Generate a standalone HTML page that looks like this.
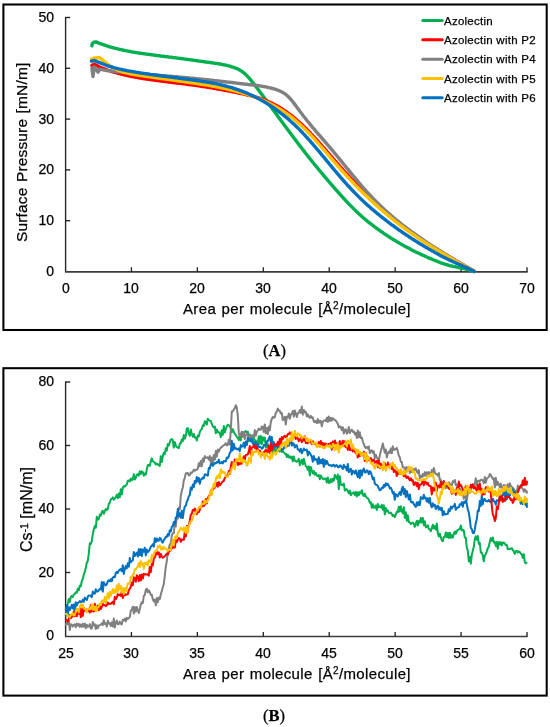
<!DOCTYPE html>
<html><head><meta charset="utf-8"><style>
html,body{margin:0;padding:0;background:#fff;}
body{width:550px;height:727px;position:relative;overflow:hidden;font-family:"Liberation Sans",sans-serif;color:#000;}
.box{position:absolute;left:3px;width:545px;border:2px solid #000;box-sizing:border-box;}
svg{position:absolute;left:0;top:0;}
.yl,.xl,.lg,.tt,.ytt,.cap{will-change:transform;-webkit-text-stroke:0.25px #000;}
.yl{position:absolute;left:13.5px;width:40px;text-align:right;font-size:14px;line-height:17px;}
.xl{position:absolute;width:40px;text-align:center;font-size:14px;line-height:17px;}
.lg{position:absolute;left:444px;font-size:11.5px;letter-spacing:0.25px;line-height:14px;white-space:nowrap;}
.tt{position:absolute;font-size:15px;letter-spacing:0.35px;word-spacing:1px;line-height:18px;white-space:nowrap;}
.tt sup{font-size:10px;vertical-align:top;position:relative;top:-2.6px;}
.ytt{position:absolute;font-size:15px;letter-spacing:0.35px;word-spacing:1.5px;line-height:18px;white-space:nowrap;transform-origin:0 0;transform:rotate(-90deg);}
.ytt sup{font-size:10px;vertical-align:top;position:relative;top:-3px;}
.cap{position:absolute;font-family:"Liberation Serif",serif;font-size:16.5px;line-height:18px;white-space:nowrap;}
</style></head><body>
<svg width="550" height="727" viewBox="0 0 550 727">
<rect x="3.4" y="4.5" width="543.3" height="325.5" fill="none" stroke="#000" stroke-width="2.05"/>
<rect x="3.4" y="368.2" width="543.3" height="327.4" fill="none" stroke="#000" stroke-width="2.05"/>
<path d="M65.6,16.9 V271.8" fill="none" stroke="#262626" stroke-width="1.4"/><path d="M65,271.8 H527.6" fill="none" stroke="#3c3c3c" stroke-width="1.7"/><path d="M65.6,220.70 H70.2" stroke="#262626" stroke-width="1.4"/><path d="M65.6,169.90 H70.2" stroke="#262626" stroke-width="1.4"/><path d="M65.6,119.10 H70.2" stroke="#262626" stroke-width="1.4"/><path d="M65.6,68.30 H70.2" stroke="#262626" stroke-width="1.4"/><path d="M65.6,17.50 H70.2" stroke="#262626" stroke-width="1.4"/><path d="M131.43,271.8 V267.3" stroke="#1e1e1e" stroke-width="1.3"/><path d="M197.36,271.8 V267.3" stroke="#1e1e1e" stroke-width="1.3"/><path d="M263.29,271.8 V267.3" stroke="#1e1e1e" stroke-width="1.3"/><path d="M329.21,271.8 V267.3" stroke="#1e1e1e" stroke-width="1.3"/><path d="M395.14,271.8 V267.3" stroke="#1e1e1e" stroke-width="1.3"/><path d="M461.07,271.8 V267.3" stroke="#1e1e1e" stroke-width="1.3"/><path d="M527.00,271.8 V267.3" stroke="#1e1e1e" stroke-width="1.3"/>
<path d="M65.6,381.4 V636.5" fill="none" stroke="#262626" stroke-width="1.4"/><path d="M65,636.5 H527.6" fill="none" stroke="#3c3c3c" stroke-width="1.7"/><path d="M65.6,572.50 H70.2" stroke="#262626" stroke-width="1.4"/><path d="M65.6,509.00 H70.2" stroke="#262626" stroke-width="1.4"/><path d="M65.6,445.50 H70.2" stroke="#262626" stroke-width="1.4"/><path d="M65.6,382.00 H70.2" stroke="#262626" stroke-width="1.4"/><path d="M131.43,636.5 V632.0" stroke="#1e1e1e" stroke-width="1.3"/><path d="M197.36,636.5 V632.0" stroke="#1e1e1e" stroke-width="1.3"/><path d="M263.29,636.5 V632.0" stroke="#1e1e1e" stroke-width="1.3"/><path d="M329.21,636.5 V632.0" stroke="#1e1e1e" stroke-width="1.3"/><path d="M395.14,636.5 V632.0" stroke="#1e1e1e" stroke-width="1.3"/><path d="M461.07,636.5 V632.0" stroke="#1e1e1e" stroke-width="1.3"/><path d="M527.00,636.5 V632.0" stroke="#1e1e1e" stroke-width="1.3"/>
<path d="M91.9,45.9 L92.3,43.5 L94.0,42.2 L95.9,41.9 L99.5,43.4 L106.8,45.9 L107.8,46.2 L108.8,46.5 L109.8,46.8 L110.8,47.1 L111.8,47.4 L112.8,47.6 L113.8,47.9 L114.8,48.2 L115.8,48.4 L116.8,48.7 L117.8,48.9 L118.8,49.2 L119.8,49.4 L120.8,49.6 L121.8,49.8 L122.8,50.0 L123.8,50.3 L124.8,50.5 L125.8,50.7 L126.8,50.9 L127.8,51.1 L128.8,51.2 L129.8,51.4 L130.8,51.6 L131.8,51.8 L132.8,52.0 L133.8,52.1 L134.8,52.3 L135.8,52.5 L136.8,52.6 L137.8,52.8 L138.8,53.0 L139.8,53.1 L140.8,53.3 L141.8,53.4 L142.8,53.6 L143.8,53.7 L144.8,53.9 L145.8,54.0 L146.8,54.1 L147.8,54.3 L148.8,54.4 L149.8,54.5 L150.8,54.7 L151.8,54.8 L152.8,54.9 L153.8,55.1 L154.8,55.2 L155.8,55.3 L156.8,55.5 L157.8,55.6 L158.8,55.7 L159.8,55.8 L160.8,56.0 L161.8,56.1 L162.8,56.2 L163.8,56.3 L164.8,56.5 L165.8,56.6 L166.8,56.7 L167.8,56.8 L168.8,57.0 L169.8,57.1 L170.8,57.2 L171.8,57.3 L172.8,57.5 L173.8,57.6 L174.8,57.7 L175.8,57.9 L176.8,58.0 L177.8,58.1 L178.8,58.3 L179.8,58.4 L180.8,58.5 L181.8,58.7 L182.8,58.8 L183.8,58.9 L184.8,59.1 L185.8,59.2 L186.8,59.3 L187.8,59.5 L188.8,59.6 L189.8,59.7 L190.8,59.9 L191.8,60.0 L192.8,60.2 L193.8,60.3 L194.8,60.4 L195.8,60.6 L196.8,60.7 L197.8,60.8 L198.8,61.0 L199.8,61.1 L200.8,61.3 L201.8,61.4 L202.8,61.5 L203.8,61.7 L204.8,61.8 L205.8,62.0 L206.8,62.1 L207.8,62.2 L208.8,62.4 L209.8,62.5 L210.8,62.7 L211.8,62.8 L212.8,62.9 L213.8,63.1 L214.8,63.2 L215.8,63.4 L216.8,63.5 L217.8,63.7 L218.8,63.8 L219.8,64.0 L220.8,64.2 L221.8,64.4 L222.8,64.6 L223.8,64.8 L224.8,65.0 L225.8,65.2 L226.8,65.4 L227.8,65.7 L228.8,65.9 L229.8,66.2 L230.8,66.5 L231.8,66.8 L232.8,67.1 L233.8,67.4 L234.8,67.8 L235.8,68.2 L236.8,68.6 L237.8,69.1 L238.8,69.6 L239.8,70.1 L240.8,70.7 L241.8,71.4 L242.8,72.1 L243.8,72.9 L244.8,73.7 L245.8,74.6 L246.8,75.6 L247.8,76.7 L248.8,77.7 L249.8,78.9 L250.8,80.1 L251.8,81.3 L252.8,82.5 L253.8,83.8 L254.8,85.1 L255.8,86.4 L256.8,87.7 L257.8,89.0 L258.8,90.4 L259.8,91.7 L260.8,93.0 L261.8,94.4 L262.8,95.7 L263.8,97.1 L264.8,98.5 L265.8,99.8 L266.8,101.2 L267.8,102.6 L268.8,103.9 L269.8,105.3 L270.8,106.7 L271.8,108.0 L272.8,109.4 L273.8,110.8 L274.8,112.1 L275.8,113.5 L276.8,114.8 L277.8,116.2 L278.8,117.6 L279.8,118.9 L280.8,120.3 L281.8,121.6 L282.8,123.0 L283.8,124.3 L284.8,125.7 L285.8,127.0 L286.8,128.4 L287.8,129.7 L288.8,131.1 L289.8,132.4 L290.8,133.8 L291.8,135.1 L292.8,136.4 L293.8,137.8 L294.8,139.1 L295.8,140.4 L296.8,141.7 L297.8,143.1 L298.8,144.4 L299.8,145.7 L300.8,147.0 L301.8,148.3 L302.8,149.6 L303.8,150.9 L304.8,152.2 L305.8,153.5 L306.8,154.7 L307.8,156.0 L308.8,157.3 L309.8,158.5 L310.8,159.8 L311.8,161.0 L312.8,162.3 L313.8,163.5 L314.8,164.8 L315.8,166.0 L316.8,167.2 L317.8,168.4 L318.8,169.6 L319.8,170.8 L320.8,172.0 L321.8,173.2 L322.8,174.4 L323.8,175.6 L324.8,176.8 L325.8,178.0 L326.8,179.1 L327.8,180.3 L328.8,181.5 L329.8,182.7 L330.8,183.8 L331.8,185.0 L332.8,186.1 L333.8,187.3 L334.8,188.4 L335.8,189.6 L336.8,190.7 L337.8,191.8 L338.8,193.0 L339.8,194.1 L340.8,195.2 L341.8,196.3 L342.8,197.4 L343.8,198.5 L344.8,199.6 L345.8,200.7 L346.8,201.7 L347.8,202.8 L348.8,203.8 L349.8,204.9 L350.8,205.9 L351.8,206.9 L352.8,207.9 L353.8,208.9 L354.8,209.9 L355.8,210.9 L356.8,211.8 L357.8,212.8 L358.8,213.7 L359.8,214.6 L360.8,215.5 L361.8,216.4 L362.8,217.3 L363.8,218.2 L364.8,219.1 L365.8,219.9 L366.8,220.7 L367.8,221.6 L368.8,222.4 L369.8,223.2 L370.8,223.9 L371.8,224.7 L372.8,225.5 L373.8,226.2 L374.8,227.0 L375.8,227.7 L376.8,228.5 L377.8,229.2 L378.8,229.9 L379.8,230.6 L380.8,231.3 L381.8,232.0 L382.8,232.7 L383.8,233.4 L384.8,234.1 L385.8,234.7 L386.8,235.4 L387.8,236.0 L388.8,236.7 L389.8,237.3 L390.8,238.0 L391.8,238.6 L392.8,239.2 L393.8,239.8 L394.8,240.4 L395.8,241.0 L396.8,241.6 L397.8,242.2 L398.8,242.8 L399.8,243.4 L400.8,244.0 L401.8,244.5 L402.8,245.1 L403.8,245.6 L404.8,246.2 L405.8,246.7 L406.8,247.3 L407.8,247.8 L408.8,248.3 L409.8,248.8 L410.8,249.4 L411.8,249.9 L412.8,250.4 L413.8,250.9 L414.8,251.4 L415.8,251.9 L416.8,252.4 L417.8,252.8 L418.8,253.3 L419.8,253.8 L420.8,254.3 L421.8,254.7 L422.8,255.2 L423.8,255.6 L424.8,256.1 L425.8,256.5 L426.8,257.0 L427.8,257.4 L428.8,257.9 L429.8,258.3 L430.8,258.7 L431.8,259.1 L432.8,259.6 L433.8,260.0 L434.8,260.4 L435.8,260.8 L436.8,261.2 L437.8,261.6 L438.8,262.0 L439.8,262.4 L440.8,262.8 L441.8,263.1 L442.8,263.5 L443.8,263.8 L444.8,264.1 L445.8,264.4 L446.8,264.7 L447.8,265.0 L448.8,265.3 L449.8,265.6 L450.8,265.8 L451.8,266.0 L452.8,266.3 L453.8,266.5 L454.8,266.7 L455.8,266.9 L456.8,267.2 L457.8,267.4 L458.8,267.6 L459.8,267.8 L460.8,268.0 L461.8,268.2 L462.8,268.4 L463.8,268.7 L464.8,268.9 L465.8,269.1 L466.8,269.4 L467.8,269.6 L468.8,269.9 L469.8,270.2 L470.8,270.5 L471.8,270.8 L472.8,271.1 L473.8,271.4 L474.2,271.5" fill="none" stroke="#00B050" stroke-width="3.4" stroke-linejoin="round" stroke-linecap="round"/><path d="M91.9,65.5 L94.5,64.1 L99.5,67.0 L106.8,69.9 L107.8,70.2 L108.8,70.5 L109.8,70.9 L110.8,71.2 L111.8,71.5 L112.8,71.8 L113.8,72.1 L114.8,72.4 L115.8,72.7 L116.8,72.9 L117.8,73.2 L118.8,73.5 L119.8,73.7 L120.8,74.0 L121.8,74.2 L122.8,74.5 L123.8,74.7 L124.8,75.0 L125.8,75.2 L126.8,75.4 L127.8,75.6 L128.8,75.9 L129.8,76.1 L130.8,76.3 L131.8,76.5 L132.8,76.7 L133.8,76.9 L134.8,77.1 L135.8,77.2 L136.8,77.4 L137.8,77.6 L138.8,77.8 L139.8,78.0 L140.8,78.1 L141.8,78.3 L142.8,78.5 L143.8,78.6 L144.8,78.8 L145.8,78.9 L146.8,79.1 L147.8,79.2 L148.8,79.4 L149.8,79.5 L150.8,79.7 L151.8,79.8 L152.8,79.9 L153.8,80.1 L154.8,80.2 L155.8,80.4 L156.8,80.5 L157.8,80.6 L158.8,80.7 L159.8,80.9 L160.8,81.0 L161.8,81.1 L162.8,81.3 L163.8,81.4 L164.8,81.5 L165.8,81.6 L166.8,81.7 L167.8,81.9 L168.8,82.0 L169.8,82.1 L170.8,82.2 L171.8,82.4 L172.8,82.5 L173.8,82.6 L174.8,82.7 L175.8,82.8 L176.8,83.0 L177.8,83.1 L178.8,83.2 L179.8,83.3 L180.8,83.4 L181.8,83.6 L182.8,83.7 L183.8,83.8 L184.8,83.9 L185.8,84.1 L186.8,84.2 L187.8,84.3 L188.8,84.5 L189.8,84.6 L190.8,84.7 L191.8,84.9 L192.8,85.0 L193.8,85.1 L194.8,85.3 L195.8,85.4 L196.8,85.6 L197.8,85.7 L198.8,85.9 L199.8,86.0 L200.8,86.2 L201.8,86.3 L202.8,86.5 L203.8,86.6 L204.8,86.8 L205.8,86.9 L206.8,87.1 L207.8,87.3 L208.8,87.4 L209.8,87.6 L210.8,87.8 L211.8,87.9 L212.8,88.1 L213.8,88.3 L214.8,88.4 L215.8,88.6 L216.8,88.8 L217.8,89.0 L218.8,89.1 L219.8,89.3 L220.8,89.5 L221.8,89.7 L222.8,89.9 L223.8,90.1 L224.8,90.3 L225.8,90.4 L226.8,90.6 L227.8,90.8 L228.8,91.0 L229.8,91.2 L230.8,91.4 L231.8,91.6 L232.8,91.8 L233.8,92.0 L234.8,92.2 L235.8,92.4 L236.8,92.6 L237.8,92.8 L238.8,93.0 L239.8,93.3 L240.8,93.5 L241.8,93.7 L242.8,93.9 L243.8,94.1 L244.8,94.3 L245.8,94.6 L246.8,94.8 L247.8,95.0 L248.8,95.3 L249.8,95.5 L250.8,95.8 L251.8,96.0 L252.8,96.3 L253.8,96.5 L254.8,96.8 L255.8,97.1 L256.8,97.4 L257.8,97.7 L258.8,98.0 L259.8,98.3 L260.8,98.7 L261.8,99.0 L262.8,99.4 L263.8,99.7 L264.8,100.1 L265.8,100.5 L266.8,100.9 L267.8,101.3 L268.8,101.8 L269.8,102.2 L270.8,102.7 L271.8,103.2 L272.8,103.6 L273.8,104.2 L274.8,104.7 L275.8,105.2 L276.8,105.8 L277.8,106.3 L278.8,106.9 L279.8,107.5 L280.8,108.1 L281.8,108.8 L282.8,109.4 L283.8,110.1 L284.8,110.7 L285.8,111.4 L286.8,112.1 L287.8,112.8 L288.8,113.6 L289.8,114.3 L290.8,115.1 L291.8,115.9 L292.8,116.7 L293.8,117.5 L294.8,118.3 L295.8,119.2 L296.8,120.0 L297.8,120.9 L298.8,121.8 L299.8,122.7 L300.8,123.6 L301.8,124.5 L302.8,125.5 L303.8,126.5 L304.8,127.4 L305.8,128.4 L306.8,129.4 L307.8,130.4 L308.8,131.5 L309.8,132.5 L310.8,133.6 L311.8,134.6 L312.8,135.7 L313.8,136.8 L314.8,137.9 L315.8,139.0 L316.8,140.1 L317.8,141.2 L318.8,142.3 L319.8,143.4 L320.8,144.5 L321.8,145.7 L322.8,146.8 L323.8,147.9 L324.8,149.1 L325.8,150.2 L326.8,151.4 L327.8,152.5 L328.8,153.7 L329.8,154.8 L330.8,156.0 L331.8,157.1 L332.8,158.3 L333.8,159.4 L334.8,160.6 L335.8,161.7 L336.8,162.9 L337.8,164.0 L338.8,165.1 L339.8,166.3 L340.8,167.4 L341.8,168.5 L342.8,169.6 L343.8,170.7 L344.8,171.9 L345.8,173.0 L346.8,174.0 L347.8,175.1 L348.8,176.2 L349.8,177.3 L350.8,178.4 L351.8,179.4 L352.8,180.5 L353.8,181.6 L354.8,182.6 L355.8,183.7 L356.8,184.7 L357.8,185.7 L358.8,186.8 L359.8,187.8 L360.8,188.8 L361.8,189.8 L362.8,190.8 L363.8,191.8 L364.8,192.8 L365.8,193.8 L366.8,194.8 L367.8,195.8 L368.8,196.8 L369.8,197.7 L370.8,198.7 L371.8,199.6 L372.8,200.6 L373.8,201.5 L374.8,202.5 L375.8,203.4 L376.8,204.3 L377.8,205.2 L378.8,206.1 L379.8,207.1 L380.8,208.0 L381.8,208.8 L382.8,209.7 L383.8,210.6 L384.8,211.5 L385.8,212.4 L386.8,213.2 L387.8,214.1 L388.8,214.9 L389.8,215.8 L390.8,216.6 L391.8,217.4 L392.8,218.2 L393.8,219.1 L394.8,219.9 L395.8,220.7 L396.8,221.5 L397.8,222.2 L398.8,223.0 L399.8,223.8 L400.8,224.6 L401.8,225.3 L402.8,226.1 L403.8,226.9 L404.8,227.6 L405.8,228.4 L406.8,229.1 L407.8,229.8 L408.8,230.6 L409.8,231.3 L410.8,232.0 L411.8,232.7 L412.8,233.4 L413.8,234.1 L414.8,234.8 L415.8,235.5 L416.8,236.2 L417.8,236.9 L418.8,237.6 L419.8,238.3 L420.8,238.9 L421.8,239.6 L422.8,240.3 L423.8,240.9 L424.8,241.6 L425.8,242.2 L426.8,242.9 L427.8,243.5 L428.8,244.2 L429.8,244.8 L430.8,245.5 L431.8,246.1 L432.8,246.7 L433.8,247.4 L434.8,248.0 L435.8,248.6 L436.8,249.2 L437.8,249.8 L438.8,250.5 L439.8,251.1 L440.8,251.7 L441.8,252.3 L442.8,252.9 L443.8,253.5 L444.8,254.1 L445.8,254.7 L446.8,255.3 L447.8,255.9 L448.8,256.5 L449.8,257.1 L450.8,257.7 L451.8,258.2 L452.8,258.8 L453.8,259.4 L454.8,260.0 L455.8,260.6 L456.8,261.2 L457.8,261.7 L458.8,262.3 L459.8,262.9 L460.8,263.5 L461.8,264.1 L462.8,264.6 L463.8,265.2 L464.8,265.8 L465.8,266.4 L466.8,266.9 L467.8,267.5 L468.8,268.1 L469.8,268.7 L470.8,269.2 L471.8,269.8 L472.8,270.4 L473.8,271.0 L474.2,271.2" fill="none" stroke="#FF0000" stroke-width="3.4" stroke-linejoin="round" stroke-linecap="round"/><path d="M92.0,68.0 L92.3,71.4 L93.0,76.5 L93.6,72.0 L94.1,67.0 L95.5,67.7 L96.5,70.0 L98.1,72.1 L99.5,69.2 L106.8,70.6 L107.8,70.7 L108.8,70.8 L109.8,70.9 L110.8,71.0 L111.8,71.1 L112.8,71.2 L113.8,71.3 L114.8,71.4 L115.8,71.5 L116.8,71.6 L117.8,71.7 L118.8,71.8 L119.8,71.9 L120.8,72.0 L121.8,72.1 L122.8,72.1 L123.8,72.2 L124.8,72.3 L125.8,72.4 L126.8,72.5 L127.8,72.6 L128.8,72.7 L129.8,72.8 L130.8,72.9 L131.8,73.0 L132.8,73.1 L133.8,73.2 L134.8,73.3 L135.8,73.4 L136.8,73.4 L137.8,73.5 L138.8,73.6 L139.8,73.7 L140.8,73.8 L141.8,73.9 L142.8,74.0 L143.8,74.1 L144.8,74.1 L145.8,74.2 L146.8,74.3 L147.8,74.4 L148.8,74.5 L149.8,74.6 L150.8,74.7 L151.8,74.7 L152.8,74.8 L153.8,74.9 L154.8,75.0 L155.8,75.1 L156.8,75.2 L157.8,75.2 L158.8,75.3 L159.8,75.4 L160.8,75.5 L161.8,75.6 L162.8,75.7 L163.8,75.7 L164.8,75.8 L165.8,75.9 L166.8,76.0 L167.8,76.1 L168.8,76.2 L169.8,76.2 L170.8,76.3 L171.8,76.4 L172.8,76.5 L173.8,76.6 L174.8,76.7 L175.8,76.7 L176.8,76.8 L177.8,76.9 L178.8,77.0 L179.8,77.1 L180.8,77.2 L181.8,77.3 L182.8,77.4 L183.8,77.4 L184.8,77.5 L185.8,77.6 L186.8,77.7 L187.8,77.8 L188.8,77.9 L189.8,78.0 L190.8,78.1 L191.8,78.2 L192.8,78.3 L193.8,78.4 L194.8,78.5 L195.8,78.6 L196.8,78.7 L197.8,78.8 L198.8,78.9 L199.8,79.0 L200.8,79.1 L201.8,79.2 L202.8,79.3 L203.8,79.4 L204.8,79.5 L205.8,79.6 L206.8,79.7 L207.8,79.8 L208.8,79.9 L209.8,80.0 L210.8,80.1 L211.8,80.2 L212.8,80.3 L213.8,80.5 L214.8,80.6 L215.8,80.7 L216.8,80.8 L217.8,80.9 L218.8,81.0 L219.8,81.1 L220.8,81.3 L221.8,81.4 L222.8,81.5 L223.8,81.6 L224.8,81.7 L225.8,81.8 L226.8,82.0 L227.8,82.1 L228.8,82.2 L229.8,82.3 L230.8,82.4 L231.8,82.5 L232.8,82.7 L233.8,82.8 L234.8,82.9 L235.8,83.0 L236.8,83.1 L237.8,83.3 L238.8,83.4 L239.8,83.5 L240.8,83.6 L241.8,83.7 L242.8,83.9 L243.8,84.0 L244.8,84.1 L245.8,84.2 L246.8,84.3 L247.8,84.4 L248.8,84.6 L249.8,84.7 L250.8,84.8 L251.8,84.9 L252.8,85.0 L253.8,85.2 L254.8,85.3 L255.8,85.4 L256.8,85.5 L257.8,85.7 L258.8,85.8 L259.8,85.9 L260.8,86.1 L261.8,86.2 L262.8,86.4 L263.8,86.6 L264.8,86.7 L265.8,86.9 L266.8,87.1 L267.8,87.3 L268.8,87.6 L269.8,87.8 L270.8,88.0 L271.8,88.3 L272.8,88.5 L273.8,88.8 L274.8,89.1 L275.8,89.4 L276.8,89.8 L277.8,90.1 L278.8,90.5 L279.8,90.9 L280.8,91.4 L281.8,91.9 L282.8,92.5 L283.8,93.1 L284.8,93.7 L285.8,94.5 L286.8,95.3 L287.8,96.2 L288.8,97.2 L289.8,98.2 L290.8,99.4 L291.8,100.5 L292.8,101.8 L293.8,103.1 L294.8,104.4 L295.8,105.7 L296.8,107.1 L297.8,108.4 L298.8,109.8 L299.8,111.2 L300.8,112.5 L301.8,113.8 L302.8,115.2 L303.8,116.5 L304.8,117.7 L305.8,119.0 L306.8,120.3 L307.8,121.5 L308.8,122.7 L309.8,123.9 L310.8,125.2 L311.8,126.4 L312.8,127.6 L313.8,128.7 L314.8,129.9 L315.8,131.1 L316.8,132.3 L317.8,133.4 L318.8,134.6 L319.8,135.7 L320.8,136.9 L321.8,138.0 L322.8,139.2 L323.8,140.4 L324.8,141.5 L325.8,142.7 L326.8,143.8 L327.8,145.0 L328.8,146.2 L329.8,147.3 L330.8,148.5 L331.8,149.7 L332.8,150.9 L333.8,152.1 L334.8,153.3 L335.8,154.5 L336.8,155.7 L337.8,157.0 L338.8,158.2 L339.8,159.4 L340.8,160.6 L341.8,161.9 L342.8,163.1 L343.8,164.3 L344.8,165.5 L345.8,166.8 L346.8,168.0 L347.8,169.2 L348.8,170.4 L349.8,171.7 L350.8,172.9 L351.8,174.1 L352.8,175.3 L353.8,176.5 L354.8,177.7 L355.8,178.9 L356.8,180.1 L357.8,181.3 L358.8,182.5 L359.8,183.7 L360.8,184.8 L361.8,186.0 L362.8,187.2 L363.8,188.3 L364.8,189.4 L365.8,190.6 L366.8,191.7 L367.8,192.8 L368.8,193.9 L369.8,195.0 L370.8,196.0 L371.8,197.1 L372.8,198.1 L373.8,199.2 L374.8,200.2 L375.8,201.2 L376.8,202.2 L377.8,203.2 L378.8,204.2 L379.8,205.2 L380.8,206.1 L381.8,207.1 L382.8,208.0 L383.8,209.0 L384.8,209.9 L385.8,210.8 L386.8,211.7 L387.8,212.6 L388.8,213.5 L389.8,214.4 L390.8,215.2 L391.8,216.1 L392.8,216.9 L393.8,217.8 L394.8,218.6 L395.8,219.5 L396.8,220.3 L397.8,221.1 L398.8,221.9 L399.8,222.7 L400.8,223.5 L401.8,224.3 L402.8,225.1 L403.8,225.8 L404.8,226.6 L405.8,227.4 L406.8,228.1 L407.8,228.9 L408.8,229.6 L409.8,230.4 L410.8,231.1 L411.8,231.8 L412.8,232.5 L413.8,233.3 L414.8,234.0 L415.8,234.7 L416.8,235.4 L417.8,236.1 L418.8,236.8 L419.8,237.5 L420.8,238.2 L421.8,238.9 L422.8,239.6 L423.8,240.3 L424.8,240.9 L425.8,241.6 L426.8,242.3 L427.8,243.0 L428.8,243.6 L429.8,244.3 L430.8,245.0 L431.8,245.6 L432.8,246.3 L433.8,246.9 L434.8,247.6 L435.8,248.2 L436.8,248.9 L437.8,249.5 L438.8,250.1 L439.8,250.8 L440.8,251.4 L441.8,252.0 L442.8,252.7 L443.8,253.3 L444.8,253.9 L445.8,254.5 L446.8,255.2 L447.8,255.8 L448.8,256.4 L449.8,257.0 L450.8,257.6 L451.8,258.2 L452.8,258.8 L453.8,259.4 L454.8,260.0 L455.8,260.6 L456.8,261.2 L457.8,261.8 L458.8,262.4 L459.8,263.0 L460.8,263.5 L461.8,264.1 L462.8,264.7 L463.8,265.3 L464.8,265.9 L465.8,266.4 L466.8,267.0 L467.8,267.6 L468.8,268.1 L469.8,268.7 L470.8,269.3 L471.8,269.8 L472.8,270.4 L473.8,271.0 L474.2,271.2" fill="none" stroke="#808080" stroke-width="3.4" stroke-linejoin="round" stroke-linecap="round"/><path d="M91.5,59.0 L94.5,57.9 L99.5,57.5 L103.2,60.5 L104.2,61.4 L105.2,62.3 L106.2,63.1 L107.2,63.8 L108.2,64.6 L109.2,65.3 L110.2,66.0 L111.2,66.6 L112.2,67.2 L113.2,67.8 L114.2,68.3 L115.2,68.8 L116.2,69.3 L117.2,69.8 L118.2,70.2 L119.2,70.6 L120.2,71.0 L121.2,71.4 L122.2,71.7 L123.2,72.0 L124.2,72.3 L125.2,72.6 L126.2,72.9 L127.2,73.1 L128.2,73.4 L129.2,73.6 L130.2,73.8 L131.2,74.0 L132.2,74.2 L133.2,74.4 L134.2,74.5 L135.2,74.7 L136.2,74.9 L137.2,75.0 L138.2,75.2 L139.2,75.3 L140.2,75.5 L141.2,75.6 L142.2,75.8 L143.2,75.9 L144.2,76.1 L145.2,76.2 L146.2,76.3 L147.2,76.5 L148.2,76.6 L149.2,76.8 L150.2,76.9 L151.2,77.1 L152.2,77.2 L153.2,77.3 L154.2,77.5 L155.2,77.6 L156.2,77.8 L157.2,77.9 L158.2,78.0 L159.2,78.2 L160.2,78.3 L161.2,78.5 L162.2,78.6 L163.2,78.7 L164.2,78.9 L165.2,79.0 L166.2,79.2 L167.2,79.3 L168.2,79.4 L169.2,79.6 L170.2,79.7 L171.2,79.8 L172.2,80.0 L173.2,80.1 L174.2,80.3 L175.2,80.4 L176.2,80.5 L177.2,80.7 L178.2,80.8 L179.2,81.0 L180.2,81.1 L181.2,81.3 L182.2,81.4 L183.2,81.5 L184.2,81.7 L185.2,81.8 L186.2,82.0 L187.2,82.1 L188.2,82.3 L189.2,82.4 L190.2,82.6 L191.2,82.7 L192.2,82.8 L193.2,83.0 L194.2,83.1 L195.2,83.3 L196.2,83.4 L197.2,83.6 L198.2,83.8 L199.2,83.9 L200.2,84.1 L201.2,84.2 L202.2,84.4 L203.2,84.5 L204.2,84.7 L205.2,84.9 L206.2,85.0 L207.2,85.2 L208.2,85.4 L209.2,85.5 L210.2,85.7 L211.2,85.9 L212.2,86.1 L213.2,86.3 L214.2,86.4 L215.2,86.6 L216.2,86.8 L217.2,87.0 L218.2,87.2 L219.2,87.4 L220.2,87.6 L221.2,87.8 L222.2,88.0 L223.2,88.2 L224.2,88.4 L225.2,88.6 L226.2,88.9 L227.2,89.1 L228.2,89.3 L229.2,89.5 L230.2,89.8 L231.2,90.0 L232.2,90.3 L233.2,90.5 L234.2,90.8 L235.2,91.0 L236.2,91.3 L237.2,91.5 L238.2,91.8 L239.2,92.1 L240.2,92.3 L241.2,92.6 L242.2,92.9 L243.2,93.2 L244.2,93.5 L245.2,93.8 L246.2,94.1 L247.2,94.4 L248.2,94.7 L249.2,95.1 L250.2,95.4 L251.2,95.7 L252.2,96.1 L253.2,96.4 L254.2,96.8 L255.2,97.1 L256.2,97.5 L257.2,97.9 L258.2,98.3 L259.2,98.7 L260.2,99.1 L261.2,99.5 L262.2,99.9 L263.2,100.4 L264.2,100.8 L265.2,101.3 L266.2,101.7 L267.2,102.2 L268.2,102.7 L269.2,103.2 L270.2,103.7 L271.2,104.2 L272.2,104.7 L273.2,105.2 L274.2,105.8 L275.2,106.3 L276.2,106.9 L277.2,107.5 L278.2,108.1 L279.2,108.7 L280.2,109.3 L281.2,109.9 L282.2,110.6 L283.2,111.2 L284.2,111.9 L285.2,112.6 L286.2,113.3 L287.2,114.0 L288.2,114.7 L289.2,115.4 L290.2,116.2 L291.2,116.9 L292.2,117.7 L293.2,118.5 L294.2,119.3 L295.2,120.2 L296.2,121.0 L297.2,121.9 L298.2,122.8 L299.2,123.7 L300.2,124.6 L301.2,125.5 L302.2,126.4 L303.2,127.4 L304.2,128.4 L305.2,129.4 L306.2,130.4 L307.2,131.4 L308.2,132.4 L309.2,133.5 L310.2,134.5 L311.2,135.6 L312.2,136.7 L313.2,137.7 L314.2,138.8 L315.2,139.9 L316.2,141.1 L317.2,142.2 L318.2,143.3 L319.2,144.4 L320.2,145.6 L321.2,146.7 L322.2,147.9 L323.2,149.0 L324.2,150.2 L325.2,151.3 L326.2,152.5 L327.2,153.7 L328.2,154.8 L329.2,156.0 L330.2,157.2 L331.2,158.3 L332.2,159.5 L333.2,160.6 L334.2,161.8 L335.2,163.0 L336.2,164.1 L337.2,165.3 L338.2,166.4 L339.2,167.5 L340.2,168.7 L341.2,169.8 L342.2,170.9 L343.2,172.0 L344.2,173.1 L345.2,174.2 L346.2,175.3 L347.2,176.4 L348.2,177.5 L349.2,178.6 L350.2,179.6 L351.2,180.7 L352.2,181.8 L353.2,182.8 L354.2,183.8 L355.2,184.9 L356.2,185.9 L357.2,186.9 L358.2,188.0 L359.2,189.0 L360.2,190.0 L361.2,191.0 L362.2,192.0 L363.2,193.0 L364.2,193.9 L365.2,194.9 L366.2,195.9 L367.2,196.8 L368.2,197.8 L369.2,198.7 L370.2,199.7 L371.2,200.6 L372.2,201.6 L373.2,202.5 L374.2,203.4 L375.2,204.3 L376.2,205.2 L377.2,206.1 L378.2,207.0 L379.2,207.9 L380.2,208.8 L381.2,209.6 L382.2,210.5 L383.2,211.4 L384.2,212.2 L385.2,213.1 L386.2,213.9 L387.2,214.8 L388.2,215.6 L389.2,216.4 L390.2,217.2 L391.2,218.1 L392.2,218.9 L393.2,219.7 L394.2,220.5 L395.2,221.3 L396.2,222.0 L397.2,222.8 L398.2,223.6 L399.2,224.4 L400.2,225.1 L401.2,225.9 L402.2,226.6 L403.2,227.4 L404.2,228.1 L405.2,228.8 L406.2,229.6 L407.2,230.3 L408.2,231.0 L409.2,231.7 L410.2,232.4 L411.2,233.2 L412.2,233.9 L413.2,234.5 L414.2,235.2 L415.2,235.9 L416.2,236.6 L417.2,237.3 L418.2,238.0 L419.2,238.6 L420.2,239.3 L421.2,240.0 L422.2,240.6 L423.2,241.3 L424.2,241.9 L425.2,242.6 L426.2,243.2 L427.2,243.9 L428.2,244.5 L429.2,245.1 L430.2,245.8 L431.2,246.4 L432.2,247.0 L433.2,247.7 L434.2,248.3 L435.2,248.9 L436.2,249.5 L437.2,250.1 L438.2,250.7 L439.2,251.3 L440.2,251.9 L441.2,252.5 L442.2,253.1 L443.2,253.7 L444.2,254.3 L445.2,254.9 L446.2,255.5 L447.2,256.1 L448.2,256.7 L449.2,257.2 L450.2,257.8 L451.2,258.4 L452.2,259.0 L453.2,259.6 L454.2,260.1 L455.2,260.7 L456.2,261.3 L457.2,261.8 L458.2,262.4 L459.2,263.0 L460.2,263.5 L461.2,264.1 L462.2,264.7 L463.2,265.2 L464.2,265.8 L465.2,266.4 L466.2,266.9 L467.2,267.5 L468.2,268.0 L469.2,268.6 L470.2,269.2 L471.2,269.7 L472.2,270.3 L473.2,270.8 L474.2,271.4" fill="none" stroke="#FFC000" stroke-width="3.4" stroke-linejoin="round" stroke-linecap="round"/><path d="M91.5,61.2 L94.5,60.5 L99.5,62.6 L106.8,65.5 L107.8,65.8 L108.8,66.1 L109.8,66.4 L110.8,66.7 L111.8,67.0 L112.8,67.3 L113.8,67.6 L114.8,67.8 L115.8,68.1 L116.8,68.4 L117.8,68.6 L118.8,68.9 L119.8,69.1 L120.8,69.3 L121.8,69.5 L122.8,69.8 L123.8,70.0 L124.8,70.2 L125.8,70.4 L126.8,70.6 L127.8,70.8 L128.8,71.0 L129.8,71.1 L130.8,71.3 L131.8,71.5 L132.8,71.7 L133.8,71.9 L134.8,72.0 L135.8,72.2 L136.8,72.4 L137.8,72.5 L138.8,72.7 L139.8,72.8 L140.8,73.0 L141.8,73.1 L142.8,73.3 L143.8,73.4 L144.8,73.6 L145.8,73.7 L146.8,73.9 L147.8,74.0 L148.8,74.2 L149.8,74.3 L150.8,74.5 L151.8,74.6 L152.8,74.7 L153.8,74.9 L154.8,75.0 L155.8,75.2 L156.8,75.3 L157.8,75.4 L158.8,75.6 L159.8,75.7 L160.8,75.8 L161.8,76.0 L162.8,76.1 L163.8,76.2 L164.8,76.4 L165.8,76.5 L166.8,76.6 L167.8,76.8 L168.8,76.9 L169.8,77.0 L170.8,77.1 L171.8,77.3 L172.8,77.4 L173.8,77.5 L174.8,77.7 L175.8,77.8 L176.8,77.9 L177.8,78.0 L178.8,78.2 L179.8,78.3 L180.8,78.4 L181.8,78.6 L182.8,78.7 L183.8,78.8 L184.8,79.0 L185.8,79.1 L186.8,79.2 L187.8,79.3 L188.8,79.5 L189.8,79.6 L190.8,79.7 L191.8,79.9 L192.8,80.0 L193.8,80.2 L194.8,80.3 L195.8,80.4 L196.8,80.6 L197.8,80.7 L198.8,80.9 L199.8,81.0 L200.8,81.1 L201.8,81.3 L202.8,81.5 L203.8,81.6 L204.8,81.8 L205.8,81.9 L206.8,82.1 L207.8,82.3 L208.8,82.4 L209.8,82.6 L210.8,82.8 L211.8,83.0 L212.8,83.2 L213.8,83.3 L214.8,83.5 L215.8,83.7 L216.8,83.9 L217.8,84.2 L218.8,84.4 L219.8,84.6 L220.8,84.8 L221.8,85.0 L222.8,85.3 L223.8,85.5 L224.8,85.8 L225.8,86.0 L226.8,86.3 L227.8,86.6 L228.8,86.8 L229.8,87.1 L230.8,87.4 L231.8,87.7 L232.8,88.0 L233.8,88.3 L234.8,88.6 L235.8,89.0 L236.8,89.3 L237.8,89.6 L238.8,90.0 L239.8,90.3 L240.8,90.7 L241.8,91.1 L242.8,91.5 L243.8,91.9 L244.8,92.3 L245.8,92.7 L246.8,93.1 L247.8,93.5 L248.8,94.0 L249.8,94.4 L250.8,94.9 L251.8,95.3 L252.8,95.8 L253.8,96.3 L254.8,96.8 L255.8,97.3 L256.8,97.8 L257.8,98.3 L258.8,98.8 L259.8,99.4 L260.8,99.9 L261.8,100.5 L262.8,101.1 L263.8,101.6 L264.8,102.2 L265.8,102.8 L266.8,103.4 L267.8,104.1 L268.8,104.7 L269.8,105.3 L270.8,106.0 L271.8,106.6 L272.8,107.3 L273.8,108.0 L274.8,108.7 L275.8,109.4 L276.8,110.1 L277.8,110.8 L278.8,111.6 L279.8,112.3 L280.8,113.1 L281.8,113.9 L282.8,114.6 L283.8,115.4 L284.8,116.2 L285.8,117.1 L286.8,117.9 L287.8,118.7 L288.8,119.6 L289.8,120.5 L290.8,121.4 L291.8,122.3 L292.8,123.2 L293.8,124.1 L294.8,125.0 L295.8,126.0 L296.8,127.0 L297.8,127.9 L298.8,128.9 L299.8,129.9 L300.8,131.0 L301.8,132.0 L302.8,133.1 L303.8,134.1 L304.8,135.2 L305.8,136.3 L306.8,137.4 L307.8,138.5 L308.8,139.6 L309.8,140.7 L310.8,141.9 L311.8,143.0 L312.8,144.2 L313.8,145.3 L314.8,146.5 L315.8,147.7 L316.8,148.8 L317.8,150.0 L318.8,151.2 L319.8,152.4 L320.8,153.6 L321.8,154.8 L322.8,156.0 L323.8,157.2 L324.8,158.4 L325.8,159.6 L326.8,160.8 L327.8,162.0 L328.8,163.2 L329.8,164.5 L330.8,165.7 L331.8,166.9 L332.8,168.1 L333.8,169.3 L334.8,170.5 L335.8,171.7 L336.8,172.9 L337.8,174.1 L338.8,175.2 L339.8,176.4 L340.8,177.6 L341.8,178.7 L342.8,179.9 L343.8,181.0 L344.8,182.1 L345.8,183.2 L346.8,184.4 L347.8,185.5 L348.8,186.5 L349.8,187.6 L350.8,188.7 L351.8,189.8 L352.8,190.8 L353.8,191.8 L354.8,192.9 L355.8,193.9 L356.8,194.9 L357.8,195.9 L358.8,196.9 L359.8,197.9 L360.8,198.9 L361.8,199.8 L362.8,200.8 L363.8,201.7 L364.8,202.6 L365.8,203.6 L366.8,204.5 L367.8,205.4 L368.8,206.2 L369.8,207.1 L370.8,208.0 L371.8,208.9 L372.8,209.7 L373.8,210.6 L374.8,211.4 L375.8,212.2 L376.8,213.1 L377.8,213.9 L378.8,214.7 L379.8,215.5 L380.8,216.3 L381.8,217.1 L382.8,217.9 L383.8,218.7 L384.8,219.5 L385.8,220.2 L386.8,221.0 L387.8,221.8 L388.8,222.5 L389.8,223.3 L390.8,224.0 L391.8,224.8 L392.8,225.5 L393.8,226.2 L394.8,227.0 L395.8,227.7 L396.8,228.4 L397.8,229.1 L398.8,229.8 L399.8,230.5 L400.8,231.2 L401.8,231.9 L402.8,232.6 L403.8,233.3 L404.8,233.9 L405.8,234.6 L406.8,235.3 L407.8,235.9 L408.8,236.6 L409.8,237.3 L410.8,237.9 L411.8,238.6 L412.8,239.2 L413.8,239.8 L414.8,240.5 L415.8,241.1 L416.8,241.7 L417.8,242.3 L418.8,243.0 L419.8,243.6 L420.8,244.2 L421.8,244.8 L422.8,245.4 L423.8,246.0 L424.8,246.6 L425.8,247.2 L426.8,247.8 L427.8,248.4 L428.8,249.0 L429.8,249.5 L430.8,250.1 L431.8,250.7 L432.8,251.3 L433.8,251.8 L434.8,252.4 L435.8,252.9 L436.8,253.5 L437.8,254.1 L438.8,254.6 L439.8,255.2 L440.8,255.7 L441.8,256.2 L442.8,256.8 L443.8,257.3 L444.8,257.8 L445.8,258.3 L446.8,258.8 L447.8,259.3 L448.8,259.8 L449.8,260.2 L450.8,260.7 L451.8,261.1 L452.8,261.6 L453.8,262.0 L454.8,262.5 L455.8,262.9 L456.8,263.4 L457.8,263.8 L458.8,264.3 L459.8,264.7 L460.8,265.1 L461.8,265.6 L462.8,266.0 L463.8,266.5 L464.8,266.9 L465.8,267.4 L466.8,267.8 L467.8,268.3 L468.8,268.8 L469.8,269.3 L470.8,269.7 L471.8,270.2 L472.8,270.7 L473.8,271.2 L474.2,271.4" fill="none" stroke="#0070C0" stroke-width="3.4" stroke-linejoin="round" stroke-linecap="round"/>
<path d="M422.8,20.50 H442.2" stroke="#00B050" stroke-width="3" stroke-linecap="round"/><path d="M422.8,39.83 H442.2" stroke="#FF0000" stroke-width="3" stroke-linecap="round"/><path d="M422.8,59.16 H442.2" stroke="#808080" stroke-width="3" stroke-linecap="round"/><path d="M422.8,78.49 H442.2" stroke="#FFC000" stroke-width="3" stroke-linecap="round"/><path d="M422.8,97.82 H442.2" stroke="#0070C0" stroke-width="3" stroke-linecap="round"/>
<path d="M65.8,609.1 L66.8,607.3 L67.8,603.8 L68.8,598.9 L69.8,602.1 L70.8,596.9 L71.8,595.9 L72.8,597.0 L73.8,594.5 L74.8,594.1 L75.8,592.3 L76.8,592.7 L77.8,588.6 L78.8,590.3 L79.8,585.8 L80.8,586.2 L81.8,581.0 L82.8,579.0 L83.8,574.4 L84.8,572.0 L85.8,567.7 L86.8,562.7 L87.8,560.9 L88.8,553.7 L89.8,543.3 L90.8,543.9 L91.8,540.9 L92.8,534.1 L93.8,529.5 L94.8,526.1 L95.8,527.6 L96.8,516.8 L97.8,519.8 L98.8,519.1 L99.8,514.6 L100.8,515.8 L101.8,511.9 L102.8,510.7 L103.8,513.8 L104.8,511.1 L105.8,508.9 L106.8,510.1 L107.8,509.1 L108.8,503.8 L109.8,502.8 L110.8,499.3 L111.8,499.1 L112.8,497.4 L113.8,499.7 L114.8,498.4 L115.8,497.2 L116.8,494.9 L117.8,498.3 L118.8,493.5 L119.8,497.2 L120.8,489.3 L121.8,494.5 L122.8,487.6 L123.8,486.2 L124.8,486.7 L125.8,485.3 L126.8,484.6 L127.8,480.7 L128.8,480.5 L129.8,481.4 L130.8,478.5 L131.8,480.3 L132.8,479.4 L133.8,474.2 L134.8,479.5 L135.8,477.7 L136.8,474.7 L137.8,474.2 L138.8,475.6 L139.8,471.2 L140.8,474.0 L141.8,471.4 L142.8,472.0 L143.8,475.8 L144.8,473.5 L145.8,474.6 L146.8,469.6 L147.8,465.3 L148.8,464.9 L149.8,465.8 L150.8,461.6 L151.8,458.4 L152.8,461.2 L153.8,461.9 L154.8,462.8 L155.8,464.4 L156.8,463.6 L157.8,464.5 L158.8,465.0 L159.8,465.9 L160.8,456.2 L161.8,462.1 L162.8,456.1 L163.8,452.8 L164.8,454.3 L165.8,448.2 L166.8,450.6 L167.8,444.0 L168.8,445.4 L169.8,442.2 L170.8,439.7 L171.8,439.1 L172.8,440.0 L173.8,447.6 L174.8,442.0 L175.8,445.5 L176.8,447.1 L177.8,447.5 L178.8,448.2 L179.8,443.7 L180.8,443.3 L181.8,439.5 L182.8,441.1 L183.8,434.9 L184.8,438.7 L185.8,435.9 L186.8,428.8 L187.8,428.0 L188.8,433.9 L189.8,435.9 L190.8,429.6 L191.8,433.8 L192.8,436.8 L193.8,434.0 L194.8,437.6 L195.8,437.6 L196.8,440.5 L197.8,435.6 L198.8,436.4 L199.8,432.1 L200.8,430.0 L201.8,429.1 L202.8,425.3 L203.8,426.0 L204.8,421.2 L205.8,421.9 L206.8,424.7 L207.8,418.7 L208.8,420.0 L209.8,420.8 L210.8,420.9 L211.8,423.9 L212.8,426.4 L213.8,427.4 L214.8,426.5 L215.8,433.2 L216.8,429.5 L217.8,432.2 L218.8,432.0 L219.8,433.6 L220.8,437.2 L221.8,430.2 L222.8,434.9 L223.8,426.0 L224.8,432.4 L225.8,428.9 L226.8,426.4 L227.8,424.8 L228.8,425.1 L229.8,426.5 L230.8,428.1 L231.8,432.3 L232.8,429.3 L233.8,431.7 L234.8,433.7 L235.8,435.0 L236.8,436.9 L237.8,438.0 L238.8,440.1 L239.8,435.4 L240.8,440.4 L241.8,432.6 L242.8,432.7 L243.8,433.5 L244.8,431.8 L245.8,431.1 L246.8,432.6 L247.8,431.6 L248.8,441.3 L249.8,434.5 L250.8,435.9 L251.8,437.5 L252.8,439.9 L253.8,437.0 L254.8,443.3 L255.8,440.4 L256.8,446.1 L257.8,442.4 L258.8,436.3 L259.8,443.7 L260.8,435.9 L261.8,444.2 L262.8,437.3 L263.8,440.6 L264.8,437.6 L265.8,447.6 L266.8,446.0 L267.8,443.9 L268.8,449.7 L269.8,445.7 L270.8,449.6 L271.8,445.8 L272.8,454.3 L273.8,445.2 L274.8,451.7 L275.8,450.5 L276.8,449.2 L277.8,450.9 L278.8,449.8 L279.8,451.5 L280.8,448.9 L281.8,451.9 L282.8,451.2 L283.8,452.3 L284.8,453.8 L285.8,453.7 L286.8,457.0 L287.8,454.6 L288.8,457.5 L289.8,456.3 L290.8,458.1 L291.8,456.5 L292.8,461.4 L293.8,456.5 L294.8,460.4 L295.8,461.3 L296.8,461.7 L297.8,460.7 L298.8,458.8 L299.8,465.2 L300.8,461.8 L301.8,459.8 L302.8,464.5 L303.8,458.8 L304.8,462.7 L305.8,466.2 L306.8,466.9 L307.8,470.0 L308.8,466.3 L309.8,475.5 L310.8,467.0 L311.8,470.2 L312.8,473.5 L313.8,471.0 L314.8,474.8 L315.8,472.8 L316.8,475.5 L317.8,476.0 L318.8,475.0 L319.8,479.2 L320.8,475.6 L321.8,477.2 L322.8,478.8 L323.8,479.3 L324.8,478.4 L325.8,478.4 L326.8,482.5 L327.8,477.4 L328.8,482.9 L329.8,482.7 L330.8,479.1 L331.8,482.0 L332.8,478.9 L333.8,480.7 L334.8,474.8 L335.8,477.2 L336.8,478.8 L337.8,474.5 L338.8,489.1 L339.8,476.3 L340.8,484.4 L341.8,485.2 L342.8,484.9 L343.8,483.5 L344.8,490.6 L345.8,489.3 L346.8,489.2 L347.8,491.3 L348.8,493.3 L349.8,490.6 L350.8,495.2 L351.8,493.2 L352.8,493.3 L353.8,492.3 L354.8,494.9 L355.8,491.9 L356.8,496.6 L357.8,492.2 L358.8,495.2 L359.8,492.0 L360.8,493.5 L361.8,490.3 L362.8,494.9 L363.8,496.2 L364.8,493.5 L365.8,496.3 L366.8,497.7 L367.8,498.4 L368.8,499.6 L369.8,502.6 L370.8,502.2 L371.8,507.7 L372.8,504.2 L373.8,507.7 L374.8,507.6 L375.8,505.5 L376.8,510.1 L377.8,504.1 L378.8,507.0 L379.8,506.6 L380.8,507.5 L381.8,504.9 L382.8,509.7 L383.8,505.2 L384.8,514.5 L385.8,508.1 L386.8,511.4 L387.8,510.4 L388.8,513.0 L389.8,513.1 L390.8,512.6 L391.8,514.2 L392.8,516.0 L393.8,515.0 L394.8,517.1 L395.8,514.6 L396.8,511.9 L397.8,512.3 L398.8,506.8 L399.8,511.5 L400.8,506.3 L401.8,511.1 L402.8,513.3 L403.8,507.2 L404.8,517.7 L405.8,512.3 L406.8,520.7 L407.8,515.3 L408.8,522.1 L409.8,522.2 L410.8,524.1 L411.8,522.9 L412.8,522.6 L413.8,523.9 L414.8,526.8 L415.8,523.6 L416.8,520.8 L417.8,525.6 L418.8,520.9 L419.8,522.6 L420.8,517.9 L421.8,522.5 L422.8,518.0 L423.8,525.2 L424.8,521.3 L425.8,527.3 L426.8,526.7 L427.8,525.4 L428.8,529.1 L429.8,529.2 L430.8,531.2 L431.8,528.1 L432.8,524.8 L433.8,528.6 L434.8,526.1 L435.8,529.6 L436.8,523.5 L437.8,533.2 L438.8,536.4 L439.8,533.5 L440.8,537.4 L441.8,540.2 L442.8,541.2 L443.8,537.0 L444.8,536.9 L445.8,532.5 L446.8,537.2 L447.8,532.9 L448.8,538.0 L449.8,532.8 L450.8,537.8 L451.8,535.1 L452.8,537.5 L453.8,533.7 L454.8,531.5 L455.8,533.9 L456.8,531.4 L457.8,529.9 L458.8,529.5 L459.8,528.9 L460.8,525.4 L461.8,530.5 L462.8,529.7 L463.8,530.5 L464.8,537.5 L465.8,537.7 L466.8,547.7 L467.8,550.6 L468.8,561.4 L469.8,556.7 L470.8,563.7 L471.8,554.9 L472.8,550.7 L473.8,546.8 L474.8,539.1 L475.8,536.4 L476.8,539.6 L477.8,536.0 L478.8,544.0 L479.8,542.9 L480.8,552.5 L481.8,552.8 L482.8,555.5 L483.8,561.3 L484.8,555.4 L485.8,554.1 L486.8,551.4 L487.8,548.1 L488.8,546.6 L489.8,541.8 L490.8,538.1 L491.8,540.8 L492.8,537.4 L493.8,542.6 L494.8,542.0 L495.8,546.1 L496.8,542.0 L497.8,548.8 L498.8,542.1 L499.8,544.5 L500.8,542.1 L501.8,545.4 L502.8,542.7 L503.8,542.5 L504.8,543.5 L505.8,545.1 L506.8,545.0 L507.8,549.3 L508.8,548.7 L509.8,549.0 L510.8,548.7 L511.8,548.1 L512.8,550.1 L513.8,551.4 L514.8,553.9 L515.8,551.1 L516.8,550.9 L517.8,552.4 L518.8,551.4 L519.8,552.1 L520.8,553.6 L521.8,554.4 L522.8,557.9 L523.8,554.2 L524.8,562.2 L525.8,563.4 L526.4,562.8" fill="none" stroke="#00B050" stroke-width="2.0" stroke-linejoin="round" stroke-linecap="round"/><path d="M65.8,624.7 L66.8,623.4 L67.8,624.4 L68.8,620.4 L69.8,630.0 L70.8,624.2 L71.8,624.6 L72.8,626.5 L73.8,624.8 L74.8,624.3 L75.8,627.3 L76.8,623.6 L77.8,625.5 L78.8,623.8 L79.8,626.9 L80.8,624.5 L81.8,626.9 L82.8,623.8 L83.8,626.7 L84.8,623.5 L85.8,628.3 L86.8,624.8 L87.8,626.9 L88.8,626.1 L89.8,624.1 L90.8,628.4 L91.8,628.6 L92.8,622.1 L93.8,625.3 L94.8,624.2 L95.8,629.0 L96.8,625.3 L97.8,628.2 L98.8,625.4 L99.8,625.2 L100.8,624.7 L101.8,623.4 L102.8,625.1 L103.8,620.2 L104.8,623.9 L105.8,623.4 L106.8,626.6 L107.8,620.7 L108.8,623.4 L109.8,623.2 L110.8,626.0 L111.8,622.3 L112.8,626.6 L113.8,618.6 L114.8,627.6 L115.8,622.7 L116.8,620.6 L117.8,624.2 L118.8,624.0 L119.8,621.6 L120.8,623.7 L121.8,624.4 L122.8,619.7 L123.8,620.5 L124.8,618.6 L125.8,621.4 L126.8,617.8 L127.8,619.0 L128.8,617.9 L129.8,617.2 L130.8,610.9 L131.8,609.5 L132.8,606.7 L133.8,613.5 L134.8,607.1 L135.8,611.8 L136.8,607.1 L137.8,610.0 L138.8,613.0 L139.8,609.3 L140.8,604.5 L141.8,602.3 L142.8,603.2 L143.8,595.8 L144.8,595.1 L145.8,589.8 L146.8,588.8 L147.8,592.4 L148.8,590.4 L149.8,592.1 L150.8,594.8 L151.8,594.7 L152.8,599.3 L153.8,601.3 L154.8,599.5 L155.8,605.3 L156.8,598.1 L157.8,602.2 L158.8,597.4 L159.8,599.1 L160.8,594.6 L161.8,590.9 L162.8,587.2 L163.8,584.0 L164.8,575.7 L165.8,566.7 L166.8,561.0 L167.8,552.1 L168.8,548.6 L169.8,544.2 L170.8,544.4 L171.8,535.3 L172.8,533.3 L173.8,533.3 L174.8,523.0 L175.8,526.6 L176.8,516.3 L177.8,518.6 L178.8,507.5 L179.8,509.1 L180.8,496.0 L181.8,490.7 L182.8,487.5 L183.8,480.3 L184.8,477.9 L185.8,473.3 L186.8,473.5 L187.8,472.8 L188.8,475.5 L189.8,475.1 L190.8,472.5 L191.8,473.0 L192.8,471.6 L193.8,469.7 L194.8,470.8 L195.8,469.7 L196.8,469.7 L197.8,468.7 L198.8,463.3 L199.8,466.3 L200.8,460.9 L201.8,466.3 L202.8,458.4 L203.8,461.8 L204.8,456.1 L205.8,457.7 L206.8,457.8 L207.8,457.2 L208.8,459.7 L209.8,456.0 L210.8,462.7 L211.8,457.5 L212.8,463.7 L213.8,455.1 L214.8,459.8 L215.8,451.1 L216.8,456.7 L217.8,449.5 L218.8,451.6 L219.8,449.2 L220.8,447.5 L221.8,447.1 L222.8,445.9 L223.8,445.4 L224.8,444.6 L225.8,443.2 L226.8,445.3 L227.8,445.1 L228.8,439.7 L229.8,444.4 L230.8,429.8 L231.8,411.6 L232.8,411.4 L233.8,409.5 L234.8,408.1 L235.8,405.2 L236.8,407.5 L237.8,415.6 L238.8,432.9 L239.8,437.1 L240.8,434.3 L241.8,431.6 L242.8,436.9 L243.8,432.1 L244.8,439.0 L245.8,435.2 L246.8,433.9 L247.8,435.0 L248.8,436.2 L249.8,435.0 L250.8,438.7 L251.8,435.5 L252.8,435.3 L253.8,436.7 L254.8,430.1 L255.8,435.7 L256.8,432.1 L257.8,430.3 L258.8,428.5 L259.8,429.8 L260.8,429.8 L261.8,426.6 L262.8,426.7 L263.8,432.0 L264.8,424.4 L265.8,433.3 L266.8,427.9 L267.8,434.1 L268.8,426.6 L269.8,430.4 L270.8,422.1 L271.8,418.9 L272.8,416.9 L273.8,417.8 L274.8,417.2 L275.8,412.5 L276.8,411.8 L277.8,408.6 L278.8,410.5 L279.8,410.8 L280.8,413.5 L281.8,413.0 L282.8,420.0 L283.8,419.0 L284.8,416.7 L285.8,424.5 L286.8,416.8 L287.8,417.3 L288.8,413.4 L289.8,418.7 L290.8,414.7 L291.8,413.5 L292.8,411.0 L293.8,416.7 L294.8,410.4 L295.8,413.3 L296.8,417.1 L297.8,413.4 L298.8,412.7 L299.8,410.1 L300.8,412.9 L301.8,406.6 L302.8,414.7 L303.8,410.0 L304.8,412.4 L305.8,411.6 L306.8,416.6 L307.8,414.2 L308.8,416.6 L309.8,418.0 L310.8,415.9 L311.8,417.8 L312.8,417.3 L313.8,421.6 L314.8,422.3 L315.8,420.8 L316.8,423.2 L317.8,419.1 L318.8,422.7 L319.8,420.7 L320.8,421.1 L321.8,426.4 L322.8,421.6 L323.8,420.5 L324.8,420.4 L325.8,421.1 L326.8,417.7 L327.8,422.1 L328.8,416.4 L329.8,421.0 L330.8,417.8 L331.8,420.7 L332.8,418.1 L333.8,419.2 L334.8,420.0 L335.8,420.5 L336.8,422.2 L337.8,423.8 L338.8,427.4 L339.8,426.2 L340.8,426.9 L341.8,430.1 L342.8,427.2 L343.8,433.4 L344.8,429.7 L345.8,429.2 L346.8,433.8 L347.8,431.9 L348.8,427.0 L349.8,433.1 L350.8,430.8 L351.8,429.6 L352.8,431.9 L353.8,431.2 L354.8,434.4 L355.8,432.8 L356.8,438.0 L357.8,430.4 L358.8,437.3 L359.8,432.3 L360.8,438.0 L361.8,437.5 L362.8,441.5 L363.8,444.2 L364.8,446.9 L365.8,448.1 L366.8,446.9 L367.8,448.5 L368.8,446.5 L369.8,453.1 L370.8,450.9 L371.8,450.2 L372.8,452.9 L373.8,451.4 L374.8,458.1 L375.8,454.7 L376.8,457.5 L377.8,459.0 L378.8,460.3 L379.8,455.6 L380.8,451.3 L381.8,447.9 L382.8,443.4 L383.8,447.9 L384.8,452.8 L385.8,449.5 L386.8,457.4 L387.8,453.4 L388.8,451.5 L389.8,453.0 L390.8,448.5 L391.8,453.3 L392.8,446.3 L393.8,450.0 L394.8,449.6 L395.8,448.9 L396.8,447.9 L397.8,451.6 L398.8,455.6 L399.8,457.1 L400.8,461.9 L401.8,462.1 L402.8,467.5 L403.8,467.5 L404.8,467.4 L405.8,471.9 L406.8,467.1 L407.8,469.2 L408.8,467.5 L409.8,473.0 L410.8,467.8 L411.8,472.0 L412.8,468.6 L413.8,472.0 L414.8,469.4 L415.8,468.2 L416.8,471.5 L417.8,473.2 L418.8,470.1 L419.8,478.3 L420.8,475.7 L421.8,477.3 L422.8,474.1 L423.8,476.1 L424.8,472.1 L425.8,475.7 L426.8,472.3 L427.8,474.7 L428.8,472.0 L429.8,474.2 L430.8,474.5 L431.8,470.0 L432.8,476.2 L433.8,468.0 L434.8,471.8 L435.8,474.1 L436.8,474.1 L437.8,475.8 L438.8,473.0 L439.8,479.9 L440.8,479.8 L441.8,484.7 L442.8,482.0 L443.8,486.3 L444.8,483.4 L445.8,488.1 L446.8,485.3 L447.8,487.6 L448.8,482.3 L449.8,484.0 L450.8,484.5 L451.8,485.2 L452.8,481.3 L453.8,482.1 L454.8,480.0 L455.8,485.2 L456.8,484.3 L457.8,489.5 L458.8,487.0 L459.8,488.5 L460.8,490.9 L461.8,491.5 L462.8,493.1 L463.8,498.8 L464.8,497.2 L465.8,495.6 L466.8,500.5 L467.8,493.1 L468.8,492.4 L469.8,492.9 L470.8,489.6 L471.8,487.7 L472.8,484.3 L473.8,487.2 L474.8,484.0 L475.8,478.3 L476.8,484.9 L477.8,480.9 L478.8,480.6 L479.8,481.4 L480.8,480.0 L481.8,479.6 L482.8,480.6 L483.8,483.1 L484.8,476.9 L485.8,482.7 L486.8,478.6 L487.8,477.6 L488.8,477.0 L489.8,474.1 L490.8,475.0 L491.8,477.0 L492.8,478.9 L493.8,478.2 L494.8,487.4 L495.8,477.8 L496.8,485.0 L497.8,481.9 L498.8,484.3 L499.8,487.1 L500.8,483.6 L501.8,489.5 L502.8,486.9 L503.8,485.0 L504.8,490.2 L505.8,485.2 L506.8,494.3 L507.8,484.3 L508.8,487.6 L509.8,483.2 L510.8,486.0 L511.8,487.0 L512.8,487.6 L513.8,488.8 L514.8,491.0 L515.8,490.9 L516.8,493.1 L517.8,485.6 L518.8,490.5 L519.8,486.4 L520.8,487.1 L521.8,487.7 L522.8,488.7 L523.8,491.8 L524.8,489.4 L525.8,490.7 L526.8,492.8 L526.9,491.5" fill="none" stroke="#808080" stroke-width="2.0" stroke-linejoin="round" stroke-linecap="round"/><path d="M65.8,615.6 L66.8,605.0 L67.8,614.6 L68.8,607.0 L69.8,610.0 L70.8,607.9 L71.8,604.8 L72.8,608.5 L73.8,604.5 L74.8,613.0 L75.8,602.2 L76.8,605.5 L77.8,602.9 L78.8,602.5 L79.8,601.0 L80.8,601.9 L81.8,601.9 L82.8,599.6 L83.8,601.8 L84.8,597.6 L85.8,599.1 L86.8,600.0 L87.8,596.7 L88.8,595.4 L89.8,595.6 L90.8,595.8 L91.8,597.2 L92.8,591.6 L93.8,593.5 L94.8,593.8 L95.8,589.3 L96.8,591.6 L97.8,591.5 L98.8,590.1 L99.8,588.9 L100.8,589.5 L101.8,582.1 L102.8,591.6 L103.8,582.3 L104.8,584.4 L105.8,585.4 L106.8,584.2 L107.8,581.3 L108.8,580.2 L109.8,581.3 L110.8,579.1 L111.8,581.2 L112.8,577.5 L113.8,576.8 L114.8,577.2 L115.8,572.9 L116.8,571.8 L117.8,573.0 L118.8,570.5 L119.8,569.7 L120.8,569.1 L121.8,571.2 L122.8,565.3 L123.8,573.9 L124.8,568.8 L125.8,566.0 L126.8,568.4 L127.8,563.3 L128.8,566.8 L129.8,558.0 L130.8,562.3 L131.8,561.0 L132.8,560.3 L133.8,552.0 L134.8,556.0 L135.8,553.8 L136.8,552.6 L137.8,556.6 L138.8,549.2 L139.8,555.1 L140.8,549.1 L141.8,556.0 L142.8,549.5 L143.8,551.6 L144.8,547.8 L145.8,555.4 L146.8,549.5 L147.8,552.1 L148.8,551.1 L149.8,549.4 L150.8,546.8 L151.8,545.8 L152.8,544.2 L153.8,546.7 L154.8,538.3 L155.8,542.0 L156.8,538.5 L157.8,540.8 L158.8,540.7 L159.8,537.9 L160.8,538.8 L161.8,541.8 L162.8,542.6 L163.8,540.2 L164.8,538.6 L165.8,536.7 L166.8,536.9 L167.8,534.1 L168.8,535.6 L169.8,530.2 L170.8,531.5 L171.8,526.6 L172.8,526.3 L173.8,522.0 L174.8,524.4 L175.8,517.4 L176.8,517.0 L177.8,509.0 L178.8,516.4 L179.8,513.3 L180.8,517.9 L181.8,510.7 L182.8,518.0 L183.8,510.7 L184.8,506.6 L185.8,505.8 L186.8,501.8 L187.8,499.8 L188.8,496.3 L189.8,495.0 L190.8,487.5 L191.8,489.8 L192.8,484.6 L193.8,487.0 L194.8,481.0 L195.8,482.8 L196.8,476.9 L197.8,481.4 L198.8,478.0 L199.8,483.8 L200.8,479.4 L201.8,479.0 L202.8,477.5 L203.8,478.4 L204.8,474.3 L205.8,474.5 L206.8,475.1 L207.8,475.8 L208.8,467.9 L209.8,468.6 L210.8,464.5 L211.8,463.5 L212.8,465.9 L213.8,464.5 L214.8,462.9 L215.8,463.5 L216.8,462.1 L217.8,462.5 L218.8,459.6 L219.8,463.4 L220.8,463.0 L221.8,462.1 L222.8,463.4 L223.8,461.0 L224.8,461.3 L225.8,461.5 L226.8,457.4 L227.8,458.1 L228.8,456.5 L229.8,452.7 L230.8,451.8 L231.8,440.8 L232.8,450.4 L233.8,443.8 L234.8,448.8 L235.8,448.1 L236.8,449.5 L237.8,449.3 L238.8,448.4 L239.8,451.1 L240.8,445.1 L241.8,446.8 L242.8,446.1 L243.8,442.6 L244.8,447.7 L245.8,441.6 L246.8,445.2 L247.8,438.0 L248.8,439.5 L249.8,439.2 L250.8,441.4 L251.8,439.5 L252.8,443.7 L253.8,442.4 L254.8,447.5 L255.8,442.2 L256.8,449.0 L257.8,443.7 L258.8,446.9 L259.8,446.9 L260.8,447.2 L261.8,448.8 L262.8,447.9 L263.8,445.0 L264.8,445.5 L265.8,445.3 L266.8,441.2 L267.8,441.4 L268.8,438.7 L269.8,436.4 L270.8,442.7 L271.8,436.9 L272.8,445.9 L273.8,442.1 L274.8,447.9 L275.8,444.5 L276.8,446.0 L277.8,448.3 L278.8,446.4 L279.8,448.9 L280.8,449.0 L281.8,449.6 L282.8,449.9 L283.8,447.5 L284.8,447.9 L285.8,442.3 L286.8,446.6 L287.8,440.6 L288.8,445.8 L289.8,442.3 L290.8,438.9 L291.8,445.6 L292.8,443.0 L293.8,443.9 L294.8,447.5 L295.8,445.2 L296.8,445.3 L297.8,449.5 L298.8,449.4 L299.8,451.7 L300.8,448.8 L301.8,453.3 L302.8,451.0 L303.8,448.5 L304.8,450.3 L305.8,450.1 L306.8,449.6 L307.8,455.4 L308.8,451.6 L309.8,453.1 L310.8,454.6 L311.8,456.9 L312.8,461.7 L313.8,455.9 L314.8,460.0 L315.8,459.3 L316.8,459.3 L317.8,464.0 L318.8,457.3 L319.8,463.6 L320.8,460.0 L321.8,463.2 L322.8,459.0 L323.8,466.8 L324.8,460.1 L325.8,464.2 L326.8,460.9 L327.8,463.5 L328.8,465.0 L329.8,465.4 L330.8,465.1 L331.8,466.3 L332.8,465.1 L333.8,464.7 L334.8,466.6 L335.8,465.5 L336.8,465.1 L337.8,467.0 L338.8,467.3 L339.8,465.5 L340.8,465.6 L341.8,467.7 L342.8,469.0 L343.8,464.8 L344.8,467.5 L345.8,466.8 L346.8,470.5 L347.8,464.1 L348.8,472.1 L349.8,470.5 L350.8,468.7 L351.8,474.6 L352.8,470.8 L353.8,471.7 L354.8,473.5 L355.8,470.4 L356.8,474.5 L357.8,477.1 L358.8,470.6 L359.8,478.1 L360.8,470.3 L361.8,475.5 L362.8,470.6 L363.8,468.5 L364.8,472.6 L365.8,472.2 L366.8,470.3 L367.8,471.2 L368.8,474.1 L369.8,471.1 L370.8,472.2 L371.8,475.8 L372.8,479.2 L373.8,477.5 L374.8,483.5 L375.8,484.7 L376.8,484.8 L377.8,486.1 L378.8,488.5 L379.8,490.2 L380.8,489.9 L381.8,487.8 L382.8,488.1 L383.8,485.0 L384.8,486.7 L385.8,483.3 L386.8,485.2 L387.8,483.9 L388.8,485.7 L389.8,488.4 L390.8,487.7 L391.8,490.0 L392.8,493.5 L393.8,492.1 L394.8,499.8 L395.8,494.1 L396.8,495.1 L397.8,496.5 L398.8,493.9 L399.8,492.1 L400.8,495.0 L401.8,489.0 L402.8,486.7 L403.8,493.9 L404.8,488.9 L405.8,497.0 L406.8,491.0 L407.8,494.9 L408.8,499.6 L409.8,494.5 L410.8,501.5 L411.8,502.5 L412.8,501.9 L413.8,504.1 L414.8,505.6 L415.8,507.0 L416.8,502.3 L417.8,505.4 L418.8,502.0 L419.8,505.1 L420.8,497.1 L421.8,498.3 L422.8,498.9 L423.8,494.8 L424.8,498.2 L425.8,497.8 L426.8,501.6 L427.8,498.2 L428.8,502.7 L429.8,497.9 L430.8,505.0 L431.8,507.3 L432.8,503.3 L433.8,506.1 L434.8,504.7 L435.8,509.1 L436.8,506.5 L437.8,505.7 L438.8,509.7 L439.8,507.3 L440.8,510.0 L441.8,507.9 L442.8,515.3 L443.8,511.3 L444.8,514.5 L445.8,514.3 L446.8,514.1 L447.8,513.7 L448.8,509.2 L449.8,511.2 L450.8,506.6 L451.8,508.5 L452.8,506.6 L453.8,506.6 L454.8,503.9 L455.8,509.8 L456.8,508.3 L457.8,507.3 L458.8,507.3 L459.8,504.3 L460.8,504.8 L461.8,502.3 L462.8,506.7 L463.8,501.9 L464.8,502.8 L465.8,500.4 L466.8,504.1 L467.8,509.3 L468.8,512.6 L469.8,519.3 L470.8,527.9 L471.8,529.1 L472.8,532.9 L473.8,533.3 L474.8,529.4 L475.8,523.0 L476.8,519.2 L477.8,510.5 L478.8,511.0 L479.8,501.0 L480.8,506.0 L481.8,495.2 L482.8,504.4 L483.8,499.2 L484.8,499.1 L485.8,501.0 L486.8,501.2 L487.8,501.4 L488.8,499.9 L489.8,501.6 L490.8,502.2 L491.8,501.4 L492.8,498.7 L493.8,500.9 L494.8,501.8 L495.8,504.6 L496.8,500.2 L497.8,500.5 L498.8,500.7 L499.8,496.1 L500.8,497.1 L501.8,495.7 L502.8,495.1 L503.8,490.7 L504.8,496.3 L505.8,490.5 L506.8,499.4 L507.8,493.1 L508.8,497.0 L509.8,495.5 L510.8,490.3 L511.8,488.8 L512.8,490.2 L513.8,492.6 L514.8,492.0 L515.8,493.9 L516.8,497.1 L517.8,495.2 L518.8,499.5 L519.8,499.5 L520.8,503.7 L521.8,502.0 L522.8,504.1 L523.8,501.5 L524.8,503.6 L525.8,505.3 L526.8,503.2 L526.9,506.9" fill="none" stroke="#0070C0" stroke-width="2.0" stroke-linejoin="round" stroke-linecap="round"/><path d="M65.8,619.6 L66.8,620.2 L67.8,621.9 L68.8,618.2 L69.8,615.0 L70.8,618.3 L71.8,614.5 L72.8,616.6 L73.8,611.4 L74.8,616.2 L75.8,613.0 L76.8,616.3 L77.8,611.9 L78.8,613.9 L79.8,608.8 L80.8,617.2 L81.8,605.2 L82.8,616.0 L83.8,607.9 L84.8,610.7 L85.8,609.4 L86.8,609.7 L87.8,611.1 L88.8,609.2 L89.8,612.6 L90.8,604.9 L91.8,611.6 L92.8,606.4 L93.8,611.6 L94.8,603.7 L95.8,610.4 L96.8,607.7 L97.8,605.6 L98.8,610.3 L99.8,606.0 L100.8,609.0 L101.8,606.9 L102.8,604.0 L103.8,605.2 L104.8,605.1 L105.8,606.2 L106.8,605.2 L107.8,602.5 L108.8,604.2 L109.8,603.7 L110.8,603.8 L111.8,602.8 L112.8,601.7 L113.8,604.3 L114.8,596.8 L115.8,599.1 L116.8,597.5 L117.8,594.1 L118.8,595.2 L119.8,594.6 L120.8,596.0 L121.8,591.4 L122.8,598.1 L123.8,591.6 L124.8,595.5 L125.8,594.5 L126.8,594.4 L127.8,594.3 L128.8,590.3 L129.8,588.8 L130.8,587.0 L131.8,582.4 L132.8,585.3 L133.8,577.3 L134.8,578.0 L135.8,581.8 L136.8,575.3 L137.8,576.6 L138.8,581.2 L139.8,575.1 L140.8,580.5 L141.8,574.6 L142.8,578.5 L143.8,573.8 L144.8,574.6 L145.8,574.3 L146.8,574.5 L147.8,574.3 L148.8,575.7 L149.8,567.1 L150.8,572.2 L151.8,564.0 L152.8,565.4 L153.8,558.3 L154.8,557.5 L155.8,554.7 L156.8,551.1 L157.8,554.1 L158.8,552.3 L159.8,557.5 L160.8,553.9 L161.8,556.6 L162.8,557.8 L163.8,557.1 L164.8,556.1 L165.8,555.0 L166.8,553.7 L167.8,554.6 L168.8,551.9 L169.8,550.7 L170.8,550.3 L171.8,546.3 L172.8,548.1 L173.8,541.7 L174.8,547.5 L175.8,540.3 L176.8,542.0 L177.8,539.8 L178.8,538.1 L179.8,538.7 L180.8,541.9 L181.8,539.4 L182.8,539.8 L183.8,539.8 L184.8,531.6 L185.8,536.6 L186.8,526.1 L187.8,526.8 L188.8,525.4 L189.8,521.0 L190.8,514.7 L191.8,513.8 L192.8,510.1 L193.8,510.5 L194.8,508.5 L195.8,512.5 L196.8,514.1 L197.8,511.1 L198.8,512.0 L199.8,509.8 L200.8,506.4 L201.8,506.7 L202.8,501.4 L203.8,506.1 L204.8,504.5 L205.8,499.0 L206.8,503.5 L207.8,498.3 L208.8,496.3 L209.8,494.7 L210.8,492.9 L211.8,489.5 L212.8,489.8 L213.8,487.8 L214.8,487.7 L215.8,485.8 L216.8,482.7 L217.8,486.7 L218.8,481.9 L219.8,485.3 L220.8,484.2 L221.8,482.7 L222.8,481.4 L223.8,480.9 L224.8,477.9 L225.8,476.9 L226.8,475.5 L227.8,475.4 L228.8,470.9 L229.8,473.9 L230.8,466.7 L231.8,461.9 L232.8,465.7 L233.8,464.4 L234.8,459.5 L235.8,460.9 L236.8,460.2 L237.8,465.1 L238.8,462.9 L239.8,464.2 L240.8,462.8 L241.8,463.6 L242.8,460.1 L243.8,456.3 L244.8,459.6 L245.8,454.9 L246.8,454.8 L247.8,454.4 L248.8,451.4 L249.8,445.9 L250.8,454.5 L251.8,447.4 L252.8,447.1 L253.8,445.4 L254.8,447.9 L255.8,445.5 L256.8,450.9 L257.8,448.8 L258.8,451.1 L259.8,450.5 L260.8,452.7 L261.8,454.9 L262.8,453.6 L263.8,452.2 L264.8,451.3 L265.8,449.7 L266.8,452.6 L267.8,452.0 L268.8,446.1 L269.8,453.2 L270.8,443.3 L271.8,450.5 L272.8,446.9 L273.8,444.4 L274.8,444.1 L275.8,446.0 L276.8,445.0 L277.8,441.9 L278.8,445.3 L279.8,438.7 L280.8,444.7 L281.8,437.0 L282.8,439.2 L283.8,436.9 L284.8,435.7 L285.8,437.3 L286.8,436.6 L287.8,434.1 L288.8,434.1 L289.8,432.4 L290.8,434.0 L291.8,435.2 L292.8,435.5 L293.8,436.6 L294.8,437.2 L295.8,438.9 L296.8,435.9 L297.8,438.4 L298.8,441.1 L299.8,439.5 L300.8,438.1 L301.8,442.2 L302.8,437.0 L303.8,440.5 L304.8,436.2 L305.8,443.2 L306.8,438.5 L307.8,443.2 L308.8,440.8 L309.8,441.5 L310.8,441.9 L311.8,444.1 L312.8,441.2 L313.8,443.3 L314.8,443.0 L315.8,444.6 L316.8,444.2 L317.8,446.3 L318.8,441.9 L319.8,446.6 L320.8,441.1 L321.8,446.2 L322.8,443.0 L323.8,447.5 L324.8,443.5 L325.8,443.8 L326.8,445.6 L327.8,444.5 L328.8,444.0 L329.8,444.2 L330.8,442.8 L331.8,449.7 L332.8,441.6 L333.8,447.0 L334.8,440.4 L335.8,443.7 L336.8,443.5 L337.8,443.5 L338.8,445.0 L339.8,440.9 L340.8,445.5 L341.8,444.7 L342.8,440.8 L343.8,446.3 L344.8,441.3 L345.8,447.2 L346.8,445.5 L347.8,449.9 L348.8,444.7 L349.8,450.0 L350.8,450.0 L351.8,447.2 L352.8,451.5 L353.8,448.8 L354.8,451.3 L355.8,453.3 L356.8,453.3 L357.8,457.4 L358.8,454.0 L359.8,456.2 L360.8,453.2 L361.8,455.0 L362.8,455.4 L363.8,451.7 L364.8,460.9 L365.8,453.0 L366.8,457.1 L367.8,456.9 L368.8,460.2 L369.8,460.0 L370.8,458.1 L371.8,461.3 L372.8,459.7 L373.8,459.7 L374.8,462.6 L375.8,462.0 L376.8,460.8 L377.8,467.2 L378.8,460.6 L379.8,468.2 L380.8,463.4 L381.8,467.4 L382.8,465.6 L383.8,468.3 L384.8,462.9 L385.8,466.9 L386.8,467.3 L387.8,462.6 L388.8,465.5 L389.8,465.8 L390.8,465.0 L391.8,469.0 L392.8,466.9 L393.8,472.1 L394.8,470.1 L395.8,471.2 L396.8,476.1 L397.8,471.6 L398.8,473.9 L399.8,472.0 L400.8,474.0 L401.8,473.9 L402.8,474.7 L403.8,476.3 L404.8,472.1 L405.8,476.8 L406.8,478.0 L407.8,476.5 L408.8,478.5 L409.8,480.4 L410.8,478.2 L411.8,480.8 L412.8,480.1 L413.8,485.1 L414.8,482.8 L415.8,482.4 L416.8,486.3 L417.8,482.9 L418.8,489.0 L419.8,484.7 L420.8,484.5 L421.8,483.3 L422.8,480.6 L423.8,485.4 L424.8,480.6 L425.8,482.3 L426.8,484.4 L427.8,482.8 L428.8,485.6 L429.8,485.8 L430.8,486.4 L431.8,494.4 L432.8,487.6 L433.8,490.6 L434.8,490.3 L435.8,482.5 L436.8,490.8 L437.8,485.8 L438.8,485.6 L439.8,487.4 L440.8,481.7 L441.8,487.6 L442.8,485.8 L443.8,481.0 L444.8,484.9 L445.8,485.5 L446.8,485.8 L447.8,484.9 L448.8,488.5 L449.8,489.0 L450.8,488.7 L451.8,493.7 L452.8,491.9 L453.8,493.0 L454.8,490.4 L455.8,494.9 L456.8,487.9 L457.8,492.3 L458.8,481.5 L459.8,486.1 L460.8,484.9 L461.8,487.0 L462.8,490.0 L463.8,490.0 L464.8,489.0 L465.8,486.2 L466.8,489.6 L467.8,492.0 L468.8,488.3 L469.8,490.1 L470.8,484.7 L471.8,487.0 L472.8,484.5 L473.8,488.5 L474.8,486.7 L475.8,489.1 L476.8,490.6 L477.8,485.1 L478.8,490.1 L479.8,483.5 L480.8,492.8 L481.8,488.7 L482.8,494.8 L483.8,493.2 L484.8,494.2 L485.8,487.3 L486.8,487.5 L487.8,486.8 L488.8,491.5 L489.8,489.0 L490.8,492.7 L491.8,505.8 L492.8,514.4 L493.8,516.5 L494.8,521.1 L495.8,517.9 L496.8,506.6 L497.8,509.3 L498.8,502.9 L499.8,496.3 L500.8,500.6 L501.8,495.8 L502.8,501.9 L503.8,498.4 L504.8,501.0 L505.8,496.6 L506.8,497.8 L507.8,496.8 L508.8,496.5 L509.8,498.1 L510.8,499.9 L511.8,499.3 L512.8,502.9 L513.8,500.9 L514.8,494.5 L515.8,499.4 L516.8,492.7 L517.8,492.4 L518.8,488.7 L519.8,487.8 L520.8,485.3 L521.8,486.0 L522.8,480.6 L523.8,485.0 L524.8,477.7 L525.8,484.8 L526.8,484.2 L526.9,481.4" fill="none" stroke="#FF0000" stroke-width="2.0" stroke-linejoin="round" stroke-linecap="round"/><path d="M65.8,614.0 L66.8,613.8 L67.8,616.0 L68.8,616.2 L69.8,617.5 L70.8,614.8 L71.8,614.7 L72.8,613.3 L73.8,615.7 L74.8,614.9 L75.8,611.2 L76.8,608.6 L77.8,609.1 L78.8,612.6 L79.8,606.7 L80.8,604.4 L81.8,607.4 L82.8,604.4 L83.8,608.7 L84.8,608.6 L85.8,610.0 L86.8,612.3 L87.8,609.0 L88.8,608.3 L89.8,609.4 L90.8,608.8 L91.8,604.3 L92.8,609.8 L93.8,606.2 L94.8,610.2 L95.8,606.5 L96.8,610.9 L97.8,607.3 L98.8,606.7 L99.8,603.7 L100.8,604.7 L101.8,601.0 L102.8,600.5 L103.8,602.1 L104.8,597.1 L105.8,602.7 L106.8,597.6 L107.8,593.3 L108.8,598.5 L109.8,591.7 L110.8,596.0 L111.8,592.6 L112.8,589.0 L113.8,593.0 L114.8,589.7 L115.8,592.5 L116.8,585.6 L117.8,591.6 L118.8,583.8 L119.8,589.2 L120.8,585.9 L121.8,592.5 L122.8,587.9 L123.8,594.3 L124.8,587.9 L125.8,591.3 L126.8,587.4 L127.8,583.5 L128.8,583.5 L129.8,583.4 L130.8,577.0 L131.8,578.3 L132.8,574.2 L133.8,574.4 L134.8,569.2 L135.8,569.3 L136.8,567.7 L137.8,566.2 L138.8,563.0 L139.8,567.3 L140.8,561.0 L141.8,564.8 L142.8,563.2 L143.8,568.8 L144.8,563.0 L145.8,564.0 L146.8,562.4 L147.8,565.5 L148.8,560.3 L149.8,561.3 L150.8,562.1 L151.8,555.1 L152.8,557.3 L153.8,553.9 L154.8,551.7 L155.8,550.6 L156.8,551.0 L157.8,546.1 L158.8,547.1 L159.8,545.4 L160.8,549.5 L161.8,547.2 L162.8,549.5 L163.8,546.9 L164.8,548.7 L165.8,548.2 L166.8,549.8 L167.8,551.3 L168.8,549.7 L169.8,549.4 L170.8,550.1 L171.8,543.9 L172.8,539.9 L173.8,545.4 L174.8,537.1 L175.8,536.2 L176.8,537.9 L177.8,532.8 L178.8,531.7 L179.8,529.8 L180.8,527.6 L181.8,529.0 L182.8,530.3 L183.8,527.6 L184.8,531.2 L185.8,533.0 L186.8,526.7 L187.8,532.4 L188.8,525.7 L189.8,523.9 L190.8,521.2 L191.8,520.9 L192.8,518.3 L193.8,514.0 L194.8,514.1 L195.8,512.8 L196.8,510.3 L197.8,510.5 L198.8,507.3 L199.8,506.7 L200.8,507.4 L201.8,503.4 L202.8,503.8 L203.8,504.1 L204.8,500.1 L205.8,502.7 L206.8,502.3 L207.8,499.4 L208.8,499.3 L209.8,493.0 L210.8,489.9 L211.8,494.9 L212.8,487.4 L213.8,483.5 L214.8,486.9 L215.8,479.2 L216.8,476.4 L217.8,478.0 L218.8,474.6 L219.8,478.1 L220.8,469.2 L221.8,472.8 L222.8,471.2 L223.8,473.0 L224.8,472.3 L225.8,476.1 L226.8,477.1 L227.8,477.0 L228.8,473.5 L229.8,472.3 L230.8,472.4 L231.8,467.7 L232.8,467.2 L233.8,462.4 L234.8,469.3 L235.8,461.2 L236.8,458.9 L237.8,461.2 L238.8,460.1 L239.8,453.7 L240.8,461.3 L241.8,458.6 L242.8,462.7 L243.8,459.9 L244.8,461.7 L245.8,461.5 L246.8,465.6 L247.8,464.3 L248.8,458.1 L249.8,458.0 L250.8,462.8 L251.8,450.7 L252.8,455.2 L253.8,451.8 L254.8,452.0 L255.8,452.1 L256.8,451.4 L257.8,450.1 L258.8,454.4 L259.8,452.6 L260.8,457.6 L261.8,452.2 L262.8,453.1 L263.8,453.9 L264.8,459.1 L265.8,453.1 L266.8,453.6 L267.8,457.0 L268.8,457.1 L269.8,459.7 L270.8,453.1 L271.8,458.3 L272.8,454.4 L273.8,451.9 L274.8,452.7 L275.8,454.7 L276.8,452.1 L277.8,450.2 L278.8,448.7 L279.8,449.6 L280.8,445.2 L281.8,446.1 L282.8,442.7 L283.8,444.7 L284.8,442.1 L285.8,447.7 L286.8,437.9 L287.8,444.6 L288.8,440.3 L289.8,438.4 L290.8,441.0 L291.8,432.0 L292.8,440.0 L293.8,436.5 L294.8,430.7 L295.8,435.0 L296.8,436.4 L297.8,433.3 L298.8,433.8 L299.8,435.6 L300.8,435.0 L301.8,438.5 L302.8,436.8 L303.8,436.8 L304.8,436.7 L305.8,438.6 L306.8,441.0 L307.8,438.8 L308.8,441.6 L309.8,439.7 L310.8,439.4 L311.8,441.8 L312.8,444.4 L313.8,443.1 L314.8,442.8 L315.8,442.6 L316.8,447.2 L317.8,444.5 L318.8,445.9 L319.8,445.2 L320.8,446.8 L321.8,446.0 L322.8,447.7 L323.8,446.8 L324.8,448.1 L325.8,446.4 L326.8,445.0 L327.8,446.3 L328.8,446.7 L329.8,445.0 L330.8,447.8 L331.8,447.8 L332.8,444.1 L333.8,444.2 L334.8,450.2 L335.8,445.1 L336.8,449.2 L337.8,443.3 L338.8,452.5 L339.8,446.1 L340.8,447.4 L341.8,445.5 L342.8,446.4 L343.8,444.4 L344.8,444.1 L345.8,441.6 L346.8,446.6 L347.8,440.5 L348.8,442.7 L349.8,442.3 L350.8,439.5 L351.8,448.7 L352.8,444.5 L353.8,448.8 L354.8,449.5 L355.8,449.1 L356.8,454.6 L357.8,449.8 L358.8,452.5 L359.8,451.9 L360.8,455.0 L361.8,455.4 L362.8,453.3 L363.8,453.2 L364.8,459.1 L365.8,453.1 L366.8,462.1 L367.8,456.6 L368.8,459.6 L369.8,459.8 L370.8,463.4 L371.8,464.0 L372.8,463.1 L373.8,467.3 L374.8,468.8 L375.8,464.3 L376.8,465.3 L377.8,465.6 L378.8,465.4 L379.8,467.6 L380.8,466.9 L381.8,466.6 L382.8,470.2 L383.8,461.6 L384.8,467.8 L385.8,470.7 L386.8,466.7 L387.8,467.0 L388.8,466.1 L389.8,468.5 L390.8,464.2 L391.8,464.8 L392.8,462.4 L393.8,467.3 L394.8,465.0 L395.8,467.7 L396.8,467.9 L397.8,470.6 L398.8,470.2 L399.8,474.3 L400.8,469.2 L401.8,474.0 L402.8,474.9 L403.8,470.1 L404.8,474.0 L405.8,471.2 L406.8,472.3 L407.8,470.0 L408.8,466.4 L409.8,469.9 L410.8,467.4 L411.8,467.7 L412.8,472.3 L413.8,471.2 L414.8,473.6 L415.8,478.8 L416.8,478.4 L417.8,480.0 L418.8,480.1 L419.8,480.7 L420.8,480.1 L421.8,479.8 L422.8,480.0 L423.8,478.5 L424.8,480.3 L425.8,479.0 L426.8,478.3 L427.8,475.5 L428.8,475.9 L429.8,476.7 L430.8,473.9 L431.8,476.2 L432.8,473.4 L433.8,478.5 L434.8,486.0 L435.8,486.8 L436.8,495.4 L437.8,497.7 L438.8,503.5 L439.8,498.6 L440.8,491.8 L441.8,494.1 L442.8,485.9 L443.8,488.9 L444.8,483.5 L445.8,483.0 L446.8,484.3 L447.8,482.8 L448.8,485.9 L449.8,485.5 L450.8,488.7 L451.8,492.7 L452.8,487.3 L453.8,493.4 L454.8,490.0 L455.8,491.8 L456.8,491.3 L457.8,488.9 L458.8,494.1 L459.8,495.1 L460.8,491.2 L461.8,495.6 L462.8,492.3 L463.8,494.4 L464.8,488.4 L465.8,494.6 L466.8,485.5 L467.8,485.9 L468.8,492.7 L469.8,489.1 L470.8,491.5 L471.8,491.8 L472.8,491.4 L473.8,492.6 L474.8,493.8 L475.8,493.3 L476.8,493.3 L477.8,491.5 L478.8,490.7 L479.8,491.4 L480.8,493.4 L481.8,492.7 L482.8,489.2 L483.8,490.4 L484.8,492.9 L485.8,490.4 L486.8,491.4 L487.8,486.6 L488.8,490.6 L489.8,488.1 L490.8,490.6 L491.8,486.4 L492.8,495.8 L493.8,490.7 L494.8,495.0 L495.8,491.1 L496.8,496.1 L497.8,495.6 L498.8,488.9 L499.8,494.8 L500.8,491.4 L501.8,489.1 L502.8,491.8 L503.8,486.7 L504.8,490.9 L505.8,486.0 L506.8,487.7 L507.8,491.7 L508.8,489.2 L509.8,493.2 L510.8,488.0 L511.8,493.4 L512.8,495.0 L513.8,495.5 L514.8,494.4 L515.8,497.7 L516.8,493.6 L517.8,499.4 L518.8,495.0 L519.8,501.3 L520.8,497.7 L521.8,500.1 L522.8,500.5 L523.8,503.8 L524.8,496.5 L525.8,501.0 L526.8,502.1 L526.9,498.6" fill="none" stroke="#FFC000" stroke-width="2.0" stroke-linejoin="round" stroke-linecap="round"/>
</svg>
<div class="yl" style="top:262.9px">0</div><div class="yl" style="top:212.1px">10</div><div class="yl" style="top:161.3px">20</div><div class="yl" style="top:110.5px">30</div><div class="yl" style="top:59.7px">40</div><div class="yl" style="top:8.9px">50</div>
<div class="xl" style="left:45.5px;top:279.5px">0</div><div class="xl" style="left:111.4px;top:279.5px">10</div><div class="xl" style="left:177.4px;top:279.5px">20</div><div class="xl" style="left:243.3px;top:279.5px">30</div><div class="xl" style="left:309.2px;top:279.5px">40</div><div class="xl" style="left:375.1px;top:279.5px">50</div><div class="xl" style="left:441.1px;top:279.5px">60</div><div class="xl" style="left:507.0px;top:279.5px">70</div>
<div class="yl" style="top:627.4px">0</div><div class="yl" style="top:563.9px">20</div><div class="yl" style="top:500.4px">40</div><div class="yl" style="top:436.9px">60</div><div class="yl" style="top:373.4px">80</div>
<div class="xl" style="left:45.5px;top:644.6px">25</div><div class="xl" style="left:111.4px;top:644.6px">30</div><div class="xl" style="left:177.4px;top:644.6px">35</div><div class="xl" style="left:243.3px;top:644.6px">40</div><div class="xl" style="left:309.2px;top:644.6px">45</div><div class="xl" style="left:375.1px;top:644.6px">50</div><div class="xl" style="left:441.1px;top:644.6px">55</div><div class="xl" style="left:507.0px;top:644.6px">60</div>
<div class="lg" style="top:13.7px">Azolectin</div><div class="lg" style="top:33.0px">Azolectin with P2</div><div class="lg" style="top:52.4px">Azolectin with P4</div><div class="lg" style="top:71.7px">Azolectin with P5</div><div class="lg" style="top:91.0px">Azolectin with P6</div>
<div class="tt" style="left:183px;top:300px">Area per molecule [Å<sup>2</sup>/molecule]</div>
<div class="tt" style="left:183px;top:665px">Area per molecule [Å<sup>2</sup>/molecule]</div>
<div class="ytt" style="left:13.2px;top:242px;font-size:15.5px;letter-spacing:0.15px;word-spacing:1px">Surface Pressure [mN/m]</div>
<div class="ytt" style="left:17.7px;top:552px;font-size:16px;letter-spacing:0px;word-spacing:0px">Cs<sup style="font-size:10.5px;top:-3px">-1</sup> [mN/m]</div>
<div class="cap" style="left:263px;top:342px">(<b>A</b>)</div>
<div class="cap" style="left:263px;top:707px">(<b>B</b>)</div>
</body></html>
